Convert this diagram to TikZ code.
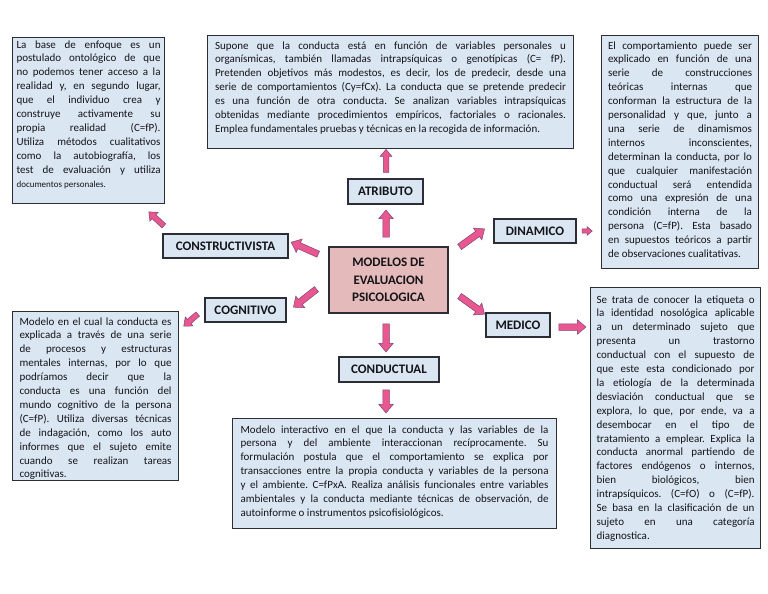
\documentclass[tikz,border=0pt]{standalone}
\usepackage{fontspec}
\setmainfont{Carlito}
\usetikzlibrary{calc,shapes.arrows}
\definecolor{boxfill}{RGB}{219,230,243}
\definecolor{centerfill}{RGB}{229,186,186}
\definecolor{boxline}{RGB}{45,45,55}
\definecolor{arrowfill}{RGB}{232,88,142}
\definecolor{arrowline}{RGB}{125,65,125}
\definecolor{txt}{RGB}{20,20,25}
\frenchspacing
\newcommand\jl[1]{\makebox[\linewidth][s]{#1}\par}
\newcommand\pinkarrow[4][parrow]{%
  \path let \p1=(#3), \p2=(#4), \n1={atan2(\y2-\y1,\x2-\x1)}, \n2={veclen(\x2-\x1,\y2-\y1)} in
    node[#1, rotate=\n1, minimum height=\n2] (#2) at ($(\p1)!0.5!(\p2)$) {};}
\tikzset{
  tbox/.style={draw=boxline, line width=1.1pt, fill=boxfill, anchor=north west, inner sep=0pt,
    text=txt, font=\fontsize{11}{13.9}\selectfont},
  lbox/.style={draw=boxline, line width=1.4pt, fill=boxfill, inner sep=0pt, text=txt,
    font=\fontsize{13}{15}\selectfont\bfseries},
  parrow/.style={single arrow, fill=arrowfill, draw=arrowline, line width=0.5pt,
    inner xsep=0pt, inner ysep=3pt, minimum width=0pt,
    single arrow head extend=4pt, single arrow tip angle=80},
  sarrow/.style={parrow, inner ysep=2.5pt, single arrow head extend=3.2pt},
  tarrow/.style={parrow, inner ysep=1.8pt, single arrow head extend=2.3pt}
}
\begin{document}
\begin{tikzpicture}[x=1pt,y=-1pt]
\useasboundingbox (0,0) rectangle (768,594);
\fill[white] (0,0) rectangle (768,594);

% ---- text boxes
\node[tbox, minimum width=152, minimum height=166] (tl) at (12,37) {\parbox[t][166pt][t]{144pt}{\rule{0pt}{10.5pt}%
\jl{La base de enfoque es un}
\jl{postulado ontológico de que}
\jl{no podemos tener acceso a la}
\jl{realidad y, en segundo lugar,}
\jl{que el individuo crea y}
\jl{construye activamente su}
\jl{propia realidad (C=fP).}
\jl{Utiliza métodos cualitativos}
\jl{como la autobiografía, los}
\jl{test de evaluación y utiliza}
{\fontsize{9}{13.9}\selectfont documentos personales.}\par}};

\node[tbox, minimum width=366, minimum height=113] (tm) at (207,35) {\parbox[t][113pt][t]{351pt}{\rule{0pt}{13.5pt}%
\jl{Supone que la conducta está en función de variables personales u}
\jl{organísmicas, también llamadas intrapsíquicas o genotípicas (C= fP).}
\jl{Pretenden objetivos más modestos, es decir, los de predecir, desde una}
\jl{serie de comportamientos (Cy=fCx). La conducta que se pretende predecir}
\jl{es una función de otra conducta. Se analizan variables intrapsíquicas}
\jl{obtenidas mediante procedimientos empíricos, factoriales o racionales.}
Emplea fundamentales pruebas y técnicas en la recogida de información.\par}};

\node[tbox, minimum width=157, minimum height=233] (tr) at (601,35) {\parbox[t][233pt][t]{144pt}{\rule{0pt}{13.5pt}%
\jl{El comportamiento puede ser}
\jl{explicado en función de una}
\jl{serie de construcciones}
\jl{teóricas internas que}
\jl{conforman la estructura de la}
\jl{personalidad y que, junto a}
\jl{una serie de dinamismos}
\jl{internos inconscientes,}
\jl{determinan la conducta, por lo}
\jl{que cualquier manifestación}
\jl{conductual será entendida}
\jl{como una expresión de una}
\jl{condición interna de la}
\jl{persona (C=fP). Esta basado}
\jl{en supuestos teóricos a partir}
de observaciones cualitativas.\par}};

\node[tbox, minimum width=166, minimum height=169] (lb) at (12,311) {\parbox[t][169pt][t]{152pt}{\rule{0pt}{13.5pt}%
\jl{Modelo en el cual la conducta es}
\jl{explicada a través de una serie}
\jl{de procesos y estructuras}
\jl{mentales internas, por lo que}
\jl{podríamos decir que la}
\jl{conducta es una función del}
\jl{mundo cognitivo de la persona}
\jl{(C=fP). Utiliza diversas técnicas}
\jl{de indagación, como los auto}
\jl{informes que el sujeto emite}
\jl{cuando se realizan tareas}
cognitivas.\par}};

\node[tbox, minimum width=324, minimum height=110] (bm) at (232,418) {\parbox[t][110pt][t]{308pt}{\rule{0pt}{14.5pt}%
\jl{Modelo interactivo en el que la conducta y las variables de la}
\jl{persona y del ambiente interaccionan recíprocamente. Su}
\jl{formulación postula que el comportamiento se explica por}
\jl{transacciones entre la propia conducta y variables de la persona}
\jl{y el ambiente. C=fPxA. Realiza análisis funcionales entre variables}
\jl{ambientales y la conducta mediante técnicas de observación, de}
autoinforme o instrumentos psicofisiológicos.\par}};

\node[tbox, minimum width=170, minimum height=261] (md) at (590,287) {\parbox[t][261pt][t]{158pt}{\rule{0pt}{15.5pt}%
\jl{Se trata de conocer la etiqueta o}
\jl{la identidad nosológica aplicable}
\jl{a un determinado sujeto que}
\jl{presenta un trastorno}
\jl{conductual con el supuesto de}
\jl{que este esta condicionado por}
\jl{la etiología de la determinada}
\jl{desviación conductual que se}
\jl{explora, lo que, por ende, va a}
\jl{desembocar en el tipo de}
\jl{tratamiento a emplear. Explica la}
\jl{conducta anormal partiendo de}
\jl{factores endógenos o internos,}
\jl{bien biológicos, bien}
\jl{intrapsíquicos. (C=fO) o (C=fP).}
\jl{Se basa en la clasificación de un}
\jl{sujeto en una categoría}
diagnostica.\par}};

% ---- label boxes
\node[draw=boxline, line width=1.4pt, fill=centerfill, inner sep=0pt, text=txt, align=center,
  minimum width=119, minimum height=66, font=\fontsize{13}{17.5}\selectfont\bfseries]
  (c) at (388.5,280) {MODELOS DE\\EVALUACION\\PSICOLOGICA};
\node[lbox, minimum width=75, minimum height=25] (atr) at (385.5,191.5) {ATRIBUTO};
\node[lbox, minimum width=125, minimum height=24] (con) at (225.5,246) {CONSTRUCTIVISTA};
\node[lbox, minimum width=82, minimum height=24] (din) at (535,231) {DINAMICO};
\node[lbox, minimum width=81, minimum height=24] (cog) at (245.5,310) {COGNITIVO};
\node[lbox, minimum width=64, minimum height=24] (med) at (518,325) {MEDICO};
\node[lbox, minimum width=100, minimum height=25] (cdt) at (389,369.5) {CONDUCTUAL};

% ---- arrow end points
\coordinate (a1s) at (386,239);  \coordinate (a1e) at (386,212);
\coordinate (a2s) at (386,174);  \coordinate (a2e) at (386,151);
\coordinate (a3s) at (320,255);  \coordinate (a3e) at (293,243);
\coordinate (a4s) at (165,227);  \coordinate (a4e) at (150,213);
\coordinate (a5s) at (458,248);  \coordinate (a5e) at (483,230);
\coordinate (a6s) at (581,231);  \coordinate (a6e) at (591,231);
\coordinate (a7s) at (318,288);  \coordinate (a7e) at (295,306);
\coordinate (a8s) at (199,313);  \coordinate (a8e) at (185,325);
\coordinate (a9s) at (458,295);  \coordinate (a9e) at (483,313);
\coordinate (a10s) at (557,327); \coordinate (a10e) at (584,327);
\coordinate (a11s) at (386,322); \coordinate (a11e) at (386,350);
\coordinate (a12s) at (386,388); \coordinate (a12e) at (386,411);

\pinkarrow{ar1}{a1s}{a1e}
\pinkarrow[sarrow]{ar2}{a2s}{a2e}
\pinkarrow{ar3}{a3s}{a3e}
\pinkarrow[sarrow]{ar4}{a4s}{a4e}
\pinkarrow{ar5}{a5s}{a5e}
\pinkarrow[tarrow]{ar6}{a6s}{a6e}
\pinkarrow{ar7}{a7s}{a7e}
\pinkarrow[sarrow]{ar8}{a8s}{a8e}
\pinkarrow{ar9}{a9s}{a9e}
\pinkarrow{ar10}{a10s}{a10e}
\pinkarrow{ar11}{a11s}{a11e}
\pinkarrow{ar12}{a12s}{a12e}
\end{tikzpicture}
\end{document}
